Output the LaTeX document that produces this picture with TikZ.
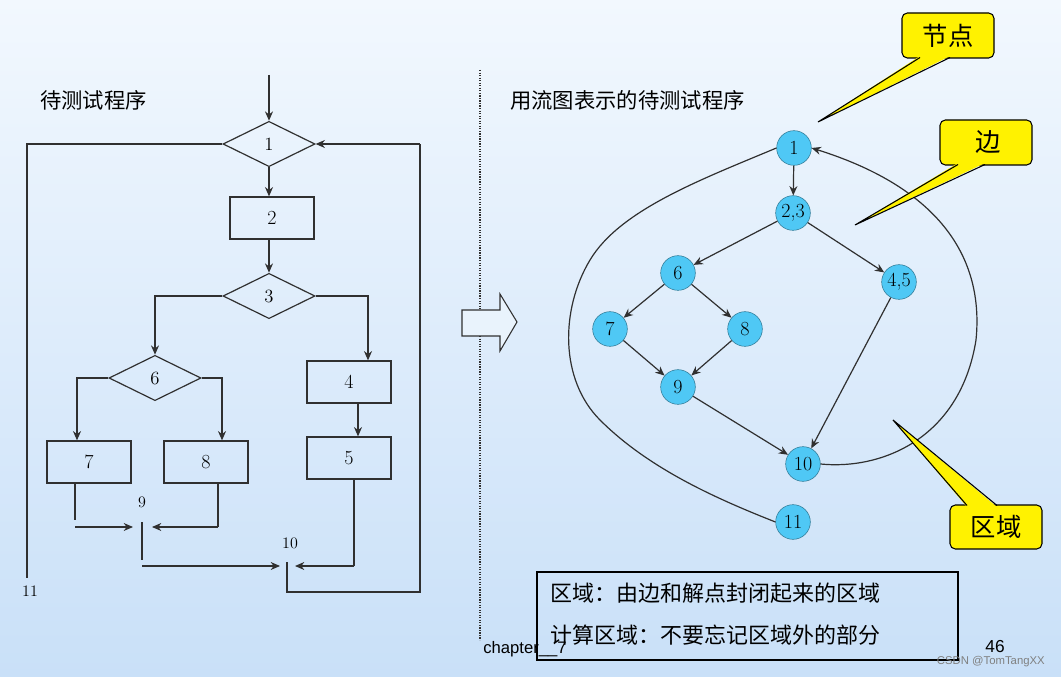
\documentclass[tikz,border=0pt]{standalone}
\usepackage{fontspec}
\newfontfamily\cjk{Noto Sans CJK SC}
\newfontfamily\sans{Liberation Sans}
\usetikzlibrary{shapes.geometric,arrows.meta}
\definecolor{nodeblue}{HTML}{4FC8F5}
\definecolor{bgtop}{HTML}{F2F8FE}
\definecolor{bgbot}{HTML}{C9E0F8}
\definecolor{ln}{HTML}{303030}
\begin{document}
\begin{tikzpicture}[x=0.75pt,y=-0.75pt,
  ln/.style={draw=ln,line width=0.9pt},
  arr/.style={ln,-{Stealth[length=7pt,width=6pt]}},
  dia/.style={diamond,draw=ln,line width=0.9pt,aspect=2,minimum width=69pt,minimum height=34pt,inner sep=0pt,font=\fontsize{14}{14}\selectfont},
  box/.style={rectangle,draw=ln,line width=0.9pt,minimum width=63pt,minimum height=31.5pt,inner sep=0pt,font=\fontsize{15}{15}\selectfont},
  lab/.style={font=\fontsize{12}{12}\selectfont,inner sep=0pt},
  gn/.style={circle,fill=nodeblue,draw=nodeblue!60!black,line width=0.4pt,minimum size=26pt,inner sep=0pt,font=\fontsize{15}{15}\selectfont},
  call/.style={fill=yellow,draw=black,line width=0.8pt,rounded corners=4pt},
  ctext/.style={font=\cjk\fontsize{19}{19}\selectfont,inner sep=0pt}]
\shade[top color=bgtop,bottom color=bgbot] (0,0) rectangle (1061,677);
\useasboundingbox (0,0) rectangle (1061,677);
% titles
\node[anchor=west,font=\cjk\fontsize{16}{16}\selectfont,inner sep=0pt] (t1) at (40,100) {待测试程序};
\node[anchor=west,font=\cjk\fontsize{16}{16}\selectfont,inner sep=0pt] (t2) at (510,100) {用流图表示的待测试程序};
% left flowchart
\coordinate (in) at (269,75);
\node[dia] (d1) at (269,144) {1};
\node[box] (b2) at (272,218) {2};
\node[dia] (d3) at (269,296) {3};
\node[dia] (d6) at (155,378) {6};
\node[box] (b4) at (349,382) {4};
\node[box] (b5) at (349,458) {5};
\node[box] (b7) at (89,462) {7};
\node[box] (b8) at (206,462) {8};
\node[lab] (l9) at (142,502) {9};
\node[lab] (l10) at (290,543) {10};
\node[lab] (l11) at (30,591) {11};
\draw[arr] (in) -- (d1.north);
\draw[arr] (d1.south) -- (b2.north -| d1.south);
\draw[arr] (b2.south -| d1.south) -- (d3.north);
\draw[ln] (d1.west) -- (27,144) -- (27,578);
\draw[arr] (d3.west) -- (155,296) -- (d6.north);
\draw[arr] (d3.east) -- (368,296) -- (b4.north -| 368,0);
\draw[arr] (b4.south -| 358,0) -- (b5.north -| 358,0);
\draw[arr] (d6.west) -- (77,378) -- (b7.north -| 77,0);
\draw[arr] (d6.east) -- (222,378) -- (b8.north -| 222,0);
\draw[ln] (b7.south -| 75,0) -- (75,520);
\draw[arr] (75,527) -- (133,527);
\draw[ln] (b8.south -| 218,0) -- (218,527);
\draw[arr] (218,527) -- (152,527);
\draw[ln] (142,522) -- (142,560);
\draw[arr] (142,566) -- (280,566);
\draw[ln] (b5.south -| 354,0) -- (354,566);
\draw[arr] (354,566) -- (295,566);
\draw[ln] (287,562) -- (287,592) -- (420,592) -- (420,144);
\draw[arr] (420,144) -- (d1.east);
% separator and hollow arrow
\draw[ln,densely dotted] (480,70) -- (480,640);
\draw[draw=ln,line width=0.8pt,fill=white!60!bgbot] (462,310) -- (500,310) -- (500,294) -- (517,322) -- (500,351) -- (500,336) -- (462,336) -- cycle;
% right graph
\node[gn] (n1) at (794,148) {1};
\node[gn] (n23) at (793,213) {2,3};
\node[gn] (n6) at (678,273) {6};
\node[gn] (n45) at (899,282) {4,5};
\node[gn] (n7) at (610,329) {7};
\node[gn] (n8) at (745,329) {8};
\node[gn] (n9) at (678,387) {9};
\node[gn] (n10) at (803,464) {10};
\node[gn] (n11) at (793,522) {11};
\draw[arr] (n1) -- (n23);
\draw[arr] (n23) -- (n6);
\draw[arr] (n23) -- (n45);
\draw[arr] (n6) -- (n7);
\draw[arr] (n6) -- (n8);
\draw[arr] (n7) -- (n9);
\draw[arr] (n8) -- (n9);
\draw[arr] (n9) -- (n10);
\draw[arr] (n45) -- (n10);
\draw[ln,line width=0.9pt] (n1.west) .. controls (700,180) and (620,210) .. (590,260) .. controls (560,310) and (560,380) .. (600,420) .. controls (650,470) and (720,500) .. (n11.west);
\draw[arr,line width=0.9pt] (n10.east) .. controls (880,470) and (960,440) .. (976,340) .. controls (985,250) and (930,185) .. (n1.east);
% callouts
\draw[call] (902,13) rectangle (994,58);
\fill[yellow] (920,56) -- (818,122) -- (950,56) -- cycle;
\draw[line width=0.8pt] (920,57.5) -- (818,122) -- (950,57.5);
\node[ctext] (c1) at (948,36) {节点};
\draw[call] (940,120) rectangle (1032,165);
\fill[yellow] (958,163) -- (855,225) -- (985,163) -- cycle;
\draw[line width=0.8pt] (958,164.5) -- (855,225) -- (985,164.5);
\node[ctext] (c2) at (988,142) {边};
\draw[call] (950,505) rectangle (1042,549);
\fill[yellow] (967,507) -- (893,420) -- (997,507) -- cycle;
\draw[line width=0.8pt] (967,505.5) -- (893,420) -- (997,505.5);
\node[ctext] (c3) at (996,527) {区域};
% text box
\draw[line width=0.8pt] (537,572) rectangle (958,660);
\node[anchor=west,font=\cjk\fontsize{16.5}{16.5}\selectfont,inner sep=0pt] (tx1) at (550,593) {区域：由边和解点封闭起来的区域};
\node[anchor=west,font=\cjk\fontsize{16.5}{16.5}\selectfont,inner sep=0pt] (tx2) at (550,635) {计算区域：不要忘记区域外的部分};
\node[anchor=west,font=\sans\fontsize{12.5}{12.5}\selectfont,inner sep=0pt] (ch) at (483,649) {chapter\_\_7};
\node[font=\sans\fontsize{13}{13}\selectfont,inner sep=0pt] (pg) at (995,647) {46};
\node[anchor=east,font=\sans\fontsize{8.5}{8.5}\selectfont,text=gray,inner sep=0pt] (wm) at (1045,662) {CSDN @TomTangXX};
\end{tikzpicture}
\end{document}
